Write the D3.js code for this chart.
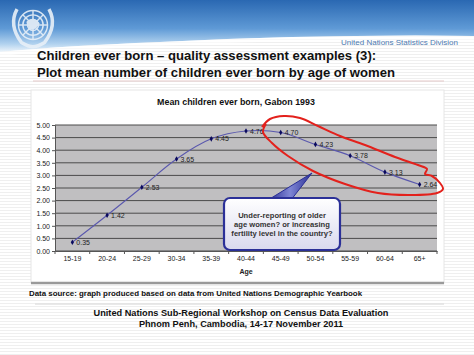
<!DOCTYPE html>
<html><head><meta charset="utf-8">
<script src="https://cdn.jsdelivr.net/npm/d3@7"></script>
<style>html,body{margin:0;padding:0;background:#fff;}svg{display:block;font-family:Arial,"Liberation Sans",sans-serif;}</style>
</head><body>
<script>
const categories = ["15-19","20-24","25-29","30-34","35-39","40-44","45-49","50-54","55-59","60-64","65+"];
const meanChildren = [0.35,1.42,2.53,3.65,4.45,4.76,4.70,4.23,3.78,3.13,2.64];
const valueLabels = ["0.35","1.42","2.53","3.65","4.45","4.76","4.70","4.23","3.78","3.13","2.64"];
const yTicks = [0,0.5,1,1.5,2,2.5,3,3.5,4,4.5,5];
const chartTitle = "Mean children ever born, Gabon 1993";
const xTitle = "Age";
const slideTitle = ["Children ever born \u2013 quality assessment examples (3):","Plot mean number of children ever born by age of women"];
const calloutText = ["Under-reporting of older","age women? or increasing","fertility level in the country?"];

const W=474,H=355;
const svg=d3.select("body").append("svg").attr("width",W).attr("height",H);
const defs=svg.append("defs");

// striped background
const pat=defs.append("pattern").attr("id","stripes").attr("width",4).attr("height",3).attr("patternUnits","userSpaceOnUse");
pat.append("rect").attr("width",4).attr("height",3).attr("fill","#ffffff");
pat.append("rect").attr("width",4).attr("height",1).attr("fill","#efefef");
svg.append("rect").attr("width",W).attr("height",H).attr("fill","url(#stripes)");

// banner
const bg=defs.append("linearGradient").attr("id","banner").attr("x1",0).attr("y1",0).attr("x2",0).attr("y2",1);
bg.append("stop").attr("offset",0).attr("stop-color","#2a68b2");
bg.append("stop").attr("offset",0.55).attr("stop-color","#5f9ad6");
bg.append("stop").attr("offset",0.85).attr("stop-color","#b3d3ef");
bg.append("stop").attr("offset",1).attr("stop-color","#eef5fb");
svg.append("path").attr("d","M0,0H474V36Q330,34 160,42Q60,46 0,52Z").attr("fill","url(#banner)");
svg.append("path").attr("d","M0,52Q60,46 160,42Q330,34 474,36V40Q330,38 160,46Q60,50 0,56Z").attr("fill","#ffffff").attr("opacity",0.6);

// UN emblem (simplified)
const logo=svg.append("g").attr("transform","translate(33,25) scale(1.45)").attr("fill","none").attr("stroke","#e8f0f8").attr("stroke-width",1).attr("opacity",0.9);
logo.append("circle").attr("r",10);
logo.append("circle").attr("r",7);
logo.append("circle").attr("r",3.8);
for(let a=0;a<180;a+=45){const r=a*Math.PI/180;logo.append("line").attr("x1",-10*Math.cos(r)).attr("y1",-10*Math.sin(r)).attr("x2",10*Math.cos(r)).attr("y2",10*Math.sin(r));}
logo.append("path").attr("d","M-4,-2Q0,-6 4,-1Q2,3 -2,3Z").attr("fill","#e8f0f8");
logo.append("path").attr("d","M-11,-11Q-17,0 -8,12Q-3,15 0,15").attr("stroke-width",2.4);
logo.append("path").attr("d","M11,-11Q17,0 8,12Q3,15 0,15").attr("stroke-width",2.4);

svg.append("text").attr("x",458).attr("y",45).attr("text-anchor","end").attr("font-size",8).attr("fill","#4d7bb2").text("United Nations Statistics Division");

svg.selectAll("text.st").data(slideTitle).join("text").attr("class","st")
 .attr("x",37).attr("y",(d,i)=>60+i*17).attr("font-size",13.1).attr("font-weight","bold").attr("fill","#111").text(d=>d);
svg.append("line").attr("x1",33).attr("x2",444).attr("y1",81).attr("y2",81).attr("stroke","#e4c8c8").attr("stroke-width",1);

// chart box
svg.append("rect").attr("x",31).attr("y",90).attr("width",413).attr("height",193).attr("fill","#ffffff").attr("stroke","#e6e6e6").attr("stroke-width",1);
svg.append("line").attr("x1",31).attr("x2",444).attr("y1",283).attr("y2",283).attr("stroke","#9a9a9a").attr("stroke-width",2.5);

svg.append("text").attr("x",236).attr("y",105).attr("text-anchor","middle").attr("font-size",8.9).attr("font-weight","bold").attr("fill","#111").text(chartTitle);

const L=55,R=437,T=125,B=251;
const x=d3.scaleBand().domain(categories).range([L,R]).padding(0);
const y=d3.scaleLinear().domain([0,5]).range([B,T]);

svg.append("rect").attr("x",L).attr("y",T).attr("width",R-L).attr("height",B-T).attr("fill","#c0bfc1");
svg.append("g").selectAll("line").data(yTicks).join("line")
 .attr("x1",L).attr("x2",R).attr("y1",d=>y(d)).attr("y2",d=>y(d)).attr("stroke","#4a4a4a").attr("stroke-width",1);

const yAxis=svg.append("g").attr("transform",`translate(${L},0)`)
 .call(d3.axisLeft(y).tickValues(yTicks).tickFormat(d3.format(".2f")).tickSize(3).tickPadding(2));
yAxis.select(".domain").attr("stroke","#555");
yAxis.selectAll(".tick line").attr("stroke","#555");
yAxis.selectAll("text").attr("font-size",7).attr("fill","#222").attr("font-family","Arial,'Liberation Sans',sans-serif");

const xAxis=svg.append("g").attr("transform",`translate(0,${B})`).call(d3.axisBottom(x).tickSize(0).tickPadding(5));
xAxis.select(".domain").attr("stroke","#555");
xAxis.selectAll("text").attr("font-size",7).attr("fill","#222").attr("font-family","Arial,'Liberation Sans',sans-serif");
svg.append("g").selectAll("line").data(categories).join("line")
 .attr("x1",d=>x(d)+x.bandwidth()).attr("x2",d=>x(d)+x.bandwidth()).attr("y1",B).attr("y2",B+3).attr("stroke","#555");
svg.append("line").attr("x1",L).attr("x2",L).attr("y1",B).attr("y2",B+3).attr("stroke","#555");

svg.append("text").attr("x",(L+R)/2).attr("y",274).attr("text-anchor","middle").attr("font-size",7).attr("font-weight","bold").attr("fill","#222").text(xTitle);

const pts=categories.map((c,i)=>[x(c)+x.bandwidth()/2,y(meanChildren[i])]);
svg.append("path").attr("d",d3.line().curve(d3.curveCatmullRom.alpha(0.5))(pts)).attr("fill","none").attr("stroke","#5a58ae").attr("stroke-width",1.1);
svg.append("g").selectAll("path").data(pts).join("path")
 .attr("transform",d=>`translate(${d[0]},${d[1]})`).attr("d",d3.symbol(d3.symbolDiamond,9)).attr("fill","#0a0a5e");
svg.append("g").selectAll("text").data(pts).join("text")
 .attr("x",d=>d[0]+4).attr("y",d=>d[1]+2.6).attr("font-size",7).attr("fill","#222").text((d,i)=>valueLabels[i]);

// red hand-drawn ellipse
const redPts=[[262,127],[270,119],[284,116],[300,118],[318,126],[340,136],[365,145],[395,157],[418,165],[427,169],[425,174],[432,176],[440,183],[443,189],[437,193],[410,195],[378,193],[345,184],[313,171],[288,156],[272,143],[263,132],[266,124]];
svg.append("path").attr("d",d3.line().curve(d3.curveCatmullRom)(redPts)).attr("fill","none").attr("stroke","#e3211c").attr("stroke-width",2);

// callout
const cg=defs.append("linearGradient").attr("id","callout").attr("x1",0).attr("y1",0).attr("x2",0).attr("y2",1);
cg.append("stop").attr("offset",0).attr("stop-color","#ffffff");
cg.append("stop").attr("offset",1).attr("stop-color","#d9d9ee");
const pg=defs.append("linearGradient").attr("id","pointer").attr("x1",0).attr("y1",0).attr("x2",1).attr("y2",0);
pg.append("stop").attr("offset",0).attr("stop-color","#2a2f96");
pg.append("stop").attr("offset",0.5).attr("stop-color","#7f86d4");
pg.append("stop").attr("offset",1).attr("stop-color","#2a2f96");
svg.append("path").attr("d","M268,200L312,173L291,200Z").attr("fill","url(#pointer)").attr("stroke","#2a2f96").attr("stroke-width",1);
svg.append("rect").attr("x",224).attr("y",198).attr("width",116).attr("height",52).attr("rx",6)
 .attr("fill","url(#callout)").attr("stroke","#2b3098").attr("stroke-width",2.2);
svg.append("g").selectAll("text").data(calloutText).join("text")
 .attr("x",282).attr("y",(d,i)=>218+i*9).attr("text-anchor","middle").attr("font-size",7.6).attr("font-weight","bold").attr("fill","#333").text(d=>d);

// footer
svg.append("text").attr("x",29).attr("y",296).attr("font-size",7.9).attr("font-weight","bold").attr("fill","#111").text("Data source: graph produced based on data from United Nations Demographic Yearbook");
svg.append("line").attr("x1",35).attr("x2",444).attr("y1",304).attr("y2",304).attr("stroke","#e2e2e2").attr("stroke-width",1.5);
svg.append("text").attr("x",241).attr("y",316).attr("text-anchor","middle").attr("font-size",9.2).attr("font-weight","bold").attr("fill","#111").text("United Nations Sub-Regional Workshop on Census Data Evaluation");
svg.append("text").attr("x",241).attr("y",327).attr("text-anchor","middle").attr("font-size",9.2).attr("font-weight","bold").attr("fill","#111").text("Phnom Penh, Cambodia, 14-17 November 2011");
</script>
</body></html>
